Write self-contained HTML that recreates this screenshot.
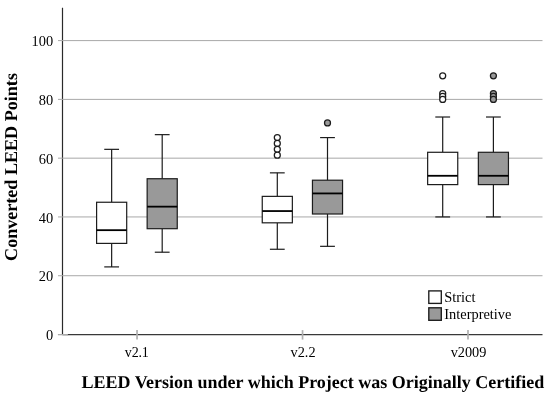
<!DOCTYPE html><html><head><meta charset="utf-8"><title>LEED boxplot</title><style>html,body{margin:0;padding:0;background:#fff}svg{display:block}text{font-family:"Liberation Serif","Times New Roman",serif;fill:#000}</style></head><body>
<svg width="550" height="398" viewBox="0 0 550 398">
<rect width="550" height="398" fill="#fff"/>
<line x1="62.5" y1="7.7" x2="62.5" y2="335.1" stroke="#2a2a2a" stroke-width="1.2"/>
<line x1="62.5" y1="334.7" x2="542.5" y2="334.7" stroke="#383838" stroke-width="1.25"/>
<line x1="57.9" y1="334.65" x2="67.9" y2="334.65" stroke="#aaa" stroke-width="1.3"/>
<line x1="137.05" y1="330.1" x2="137.05" y2="339.6" stroke="#b0b0b0" stroke-width="1.7"/>
<line x1="302.55" y1="330.1" x2="302.55" y2="339.6" stroke="#b0b0b0" stroke-width="1.7"/>
<line x1="468.0" y1="330.1" x2="468.0" y2="339.6" stroke="#b0b0b0" stroke-width="1.7"/>
<line x1="58.0" y1="275.72" x2="542.5" y2="275.72" stroke="#a8a8a8" stroke-width="1.0"/>
<line x1="58.0" y1="216.94" x2="542.5" y2="216.94" stroke="#a8a8a8" stroke-width="1.0"/>
<line x1="58.0" y1="158.16" x2="542.5" y2="158.16" stroke="#a8a8a8" stroke-width="1.0"/>
<line x1="58.0" y1="99.38" x2="542.5" y2="99.38" stroke="#a8a8a8" stroke-width="1.0"/>
<line x1="58.0" y1="40.6" x2="542.5" y2="40.6" stroke="#a8a8a8" stroke-width="1.0"/>
<g stroke="#1c1c1c" stroke-width="1.2" fill="none">
<line x1="111.65" y1="149.34" x2="111.65" y2="202.25"/>
<line x1="111.65" y1="243.39" x2="111.65" y2="266.9"/>
<line x1="104.25" y1="149.34" x2="119.05000000000001" y2="149.34"/>
<line x1="104.25" y1="266.9" x2="119.05000000000001" y2="266.9"/>
<rect x="96.60000000000001" y="202.25" width="30.1" height="41.14" fill="#fff" stroke-width="1.2"/>
<line x1="96.60000000000001" y1="230.17" x2="126.7" y2="230.17" stroke="#000" stroke-width="1.8"/>
</g>
<g stroke="#1c1c1c" stroke-width="1.2" fill="none">
<line x1="162.2" y1="134.65" x2="162.2" y2="178.73"/>
<line x1="162.2" y1="228.7" x2="162.2" y2="252.21"/>
<line x1="154.79999999999998" y1="134.65" x2="169.6" y2="134.65"/>
<line x1="154.79999999999998" y1="252.21" x2="169.6" y2="252.21"/>
<rect x="147.14999999999998" y="178.73" width="30.1" height="49.97" fill="#999" stroke-width="1.2"/>
<line x1="147.14999999999998" y1="206.65" x2="177.25" y2="206.65" stroke="#000" stroke-width="1.8"/>
</g>
<g stroke="#1c1c1c" stroke-width="1.2" fill="none">
<line x1="277.3" y1="172.85" x2="277.3" y2="196.37"/>
<line x1="277.3" y1="222.82" x2="277.3" y2="249.27"/>
<line x1="269.90000000000003" y1="172.85" x2="284.7" y2="172.85"/>
<line x1="269.90000000000003" y1="249.27" x2="284.7" y2="249.27"/>
<rect x="262.25" y="196.37" width="30.1" height="26.45" fill="#fff" stroke-width="1.2"/>
<line x1="262.25" y1="211.06" x2="292.35" y2="211.06" stroke="#000" stroke-width="1.8"/>
<circle cx="277.3" cy="137.59" r="3.0" fill="#fff" stroke-width="1.25"/>
<circle cx="277.3" cy="143.47" r="3.0" fill="#fff" stroke-width="1.25"/>
<circle cx="277.3" cy="149.34" r="3.0" fill="#fff" stroke-width="1.25"/>
<circle cx="277.3" cy="155.22" r="3.0" fill="#fff" stroke-width="1.25"/>
</g>
<g stroke="#1c1c1c" stroke-width="1.2" fill="none">
<line x1="327.5" y1="137.59" x2="327.5" y2="180.2"/>
<line x1="327.5" y1="214.0" x2="327.5" y2="246.33"/>
<line x1="320.1" y1="137.59" x2="334.9" y2="137.59"/>
<line x1="320.1" y1="246.33" x2="334.9" y2="246.33"/>
<rect x="312.45" y="180.2" width="30.1" height="33.8" fill="#999" stroke-width="1.2"/>
<line x1="312.45" y1="193.43" x2="342.55" y2="193.43" stroke="#000" stroke-width="1.8"/>
<circle cx="327.5" cy="122.89" r="3.0" fill="#999" stroke-width="1.25"/>
</g>
<g stroke="#1c1c1c" stroke-width="1.2" fill="none">
<line x1="442.7" y1="117.01" x2="442.7" y2="152.28"/>
<line x1="442.7" y1="184.61" x2="442.7" y2="216.94"/>
<line x1="435.3" y1="117.01" x2="450.09999999999997" y2="117.01"/>
<line x1="435.3" y1="216.94" x2="450.09999999999997" y2="216.94"/>
<rect x="427.65" y="152.28" width="30.1" height="32.33" fill="#fff" stroke-width="1.2"/>
<line x1="427.65" y1="175.79" x2="457.75" y2="175.79" stroke="#000" stroke-width="1.8"/>
<circle cx="442.7" cy="75.87" r="3.0" fill="#fff" stroke-width="1.25"/>
<circle cx="442.7" cy="93.5" r="3.0" fill="#fff" stroke-width="1.25"/>
<circle cx="442.7" cy="96.44" r="3.0" fill="#fff" stroke-width="1.25"/>
<circle cx="442.7" cy="99.38" r="3.0" fill="#fff" stroke-width="1.25"/>
</g>
<g stroke="#1c1c1c" stroke-width="1.2" fill="none">
<line x1="493.4" y1="117.01" x2="493.4" y2="152.28"/>
<line x1="493.4" y1="184.61" x2="493.4" y2="216.94"/>
<line x1="486.0" y1="117.01" x2="500.79999999999995" y2="117.01"/>
<line x1="486.0" y1="216.94" x2="500.79999999999995" y2="216.94"/>
<rect x="478.34999999999997" y="152.28" width="30.1" height="32.33" fill="#999" stroke-width="1.2"/>
<line x1="478.34999999999997" y1="175.79" x2="508.45" y2="175.79" stroke="#000" stroke-width="1.8"/>
<circle cx="493.4" cy="75.87" r="3.0" fill="#999" stroke-width="1.25"/>
<circle cx="493.4" cy="93.5" r="3.0" fill="#999" stroke-width="1.25"/>
<circle cx="493.4" cy="96.44" r="3.0" fill="#999" stroke-width="1.25"/>
<circle cx="493.4" cy="99.38" r="3.0" fill="#999" stroke-width="1.25"/>
</g>
<text x="53.1" y="340.1" font-size="14.4" text-anchor="end">0</text>
<text x="53.1" y="281.32" font-size="14.4" text-anchor="end">20</text>
<text x="53.1" y="222.54" font-size="14.4" text-anchor="end">40</text>
<text x="53.1" y="163.76" font-size="14.4" text-anchor="end">60</text>
<text x="53.1" y="104.98" font-size="14.4" text-anchor="end">80</text>
<text x="53.1" y="46.2" font-size="14.4" text-anchor="end">100</text>
<text x="136.75" y="357" font-size="14" letter-spacing="-0.15" text-anchor="middle">v2.1</text>
<text x="303.05" y="357" font-size="14.3" letter-spacing="0" text-anchor="middle">v2.2</text>
<text x="468.5" y="357" font-size="14.3" letter-spacing="0" text-anchor="middle">v2009</text>
<rect x="428.8" y="290.9" width="12.5" height="12.5" fill="#fff" stroke="#1c1c1c" stroke-width="1.35"/>
<rect x="428.8" y="307.8" width="12.5" height="12.5" fill="#999" stroke="#1c1c1c" stroke-width="1.35"/>
<text x="444.3" y="302.4" font-size="14.4">Strict</text>
<text x="444.3" y="319.1" font-size="14.4">Interpretive</text>
<text x="312.9" y="387.8" text-rendering="geometricPrecision" font-size="18" font-weight="bold" text-anchor="middle">LEED Version under which Project was Originally Certified</text>
<text transform="translate(16.55,167.0) rotate(-90)" text-rendering="geometricPrecision" font-size="18.08" font-weight="bold" text-anchor="middle">Converted LEED Points</text>
</svg></body></html>
